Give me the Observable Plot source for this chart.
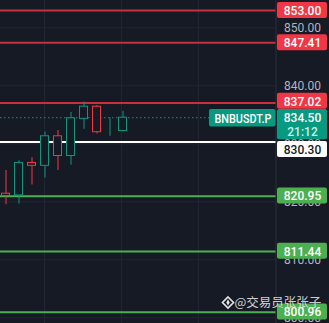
<!DOCTYPE html>
<html><head><meta charset="utf-8">
<script src="https://cdn.jsdelivr.net/npm/d3@7"></script>
<script src="https://cdn.jsdelivr.net/npm/@observablehq/plot@0.6"></script>
<style>
html,body{margin:0;padding:0;background:#161a25;overflow:hidden}
#chart svg{display:block}
</style></head><body><div id="chart"></div>
<script>
// ---- data ----
const candleIndex = [0, 1, 2, 3, 4, 5, 6, 7, 8, 9];
const openPrices  = [821.4, 821.1, 826.7, 826.2, 831.3, 827.9, 834.3, 836.4, 832.2, 832.2];
const closePrices = [821.0, 826.7, 826.2, 831.3, 827.9, 834.4, 836.4, 832.0, 832.2, 834.5];
const highPrices  = [825.4, 827.1, 827.6, 832.0, 832.3, 835.4, 837.2, 836.6, 834.5, 835.6];
const lowPrices   = [819.5, 819.6, 822.9, 824.1, 825.4, 826.3, 832.5, 831.7, 831.3, 832.2];

const redLevels = [853.00, 847.41, 837.02];
const redLabels = ["853.00", "847.41", "837.02"];
const greenLevels = [820.95, 811.44, 800.96];
const greenLabels = ["820.95", "811.44", "800.96"];
const whiteLevels = [830.30];
const whiteLabels = ["830.30"];
const lastPrice = 834.50;
const lastPriceLabel = "834.50";
const countdown = "21:12";
const symbolName = "BNBUSDT.P";
const gridPrices = [800, 810, 820, 830, 840, 850];
const tickLabels = ["800.00", "810.00", "820.00", "830.00", "840.00", "850.00"];
const timeGrid = [2.96, 8.88, 14.81];
const watermark = "@交易员张张子";

// ---- colours / layout ----
const BG = "#161a25", GRID = "#232734", UP = "#089981", DOWN = "#f23645";
const RED_LINE = "#cc2f3c", GREEN = "#4caf50";
const W = 329, H = 323;
const FONT = "Roboto, 'Liberation Sans', Arial, sans-serif";
const xDomain = [-5.5 / 13, (W - 5.5) / 13];
const yDomain = [799.02, 854.71];
const xs = Plot.scale({x: {type: "linear", domain: xDomain, range: [0, W]}});
const ys = Plot.scale({y: {type: "linear", domain: yDomain, range: [H, 0]}});
const px = p => xs.invert(p);
const py = p => ys.invert(p);
const paneEnd = px(275.5);
const boxX1 = px(277), boxX2 = px(327), boxMid = px(302);
const half = 0.3077;

const candles = candleIndex.map((i, k) => ({
  i, o: openPrices[k], c: closePrices[k], h: highPrices[k], l: lowPrices[k],
  color: closePrices[k] >= openPrices[k] ? UP : DOWN
}));

const levels = [
  ...redLevels.map((v, k) => ({v, t: redLabels[k], line: RED_LINE, fill: DOWN, text: "#ffffff", shift: k === 2 ? -1.8 : 0})),
  ...greenLevels.map((v, k) => ({v, t: greenLabels[k], line: GREEN, fill: GREEN, text: "#ffffff", shift: -0.3})),
  ...whiteLevels.map((v, k) => ({v, t: whiteLabels[k], line: "#ffffff", fill: "#ffffff", text: "#131722", shift: 7.4}))
];
const boxY = (d, off) => py(ys.apply(d.v) + d.shift + off);

const lastY = ys.apply(lastPrice);
const ticks = gridPrices.map((v, k) => ({v, t: tickLabels[k]}));

const chart = Plot.plot({
  width: W, height: H, margin: 0,
  x: {domain: xDomain, axis: null},
  y: {domain: yDomain, axis: null},
  style: {background: BG, fontFamily: FONT},
  marks: [
    // grid
    Plot.ruleY(gridPrices, {y: d => d, x1: xDomain[0], x2: paneEnd, stroke: GRID, strokeWidth: 1}),
    Plot.ruleX(timeGrid, {x: d => d, stroke: GRID, strokeWidth: 1}),
    Plot.ruleX([paneEnd], {x: d => d, stroke: "#2a2e39", strokeWidth: 1}),
    // price axis tick labels
    Plot.text(ticks, {x: boxMid, y: "v", text: "t", fill: "#b2b5be", fontSize: 12, dy: 0.5}),
    // last price dotted line
    Plot.ruleY([lastPrice], {y: d => d, x1: xDomain[0], x2: px(209), stroke: UP, strokeWidth: 1, strokeDasharray: "1.5,2.5"}),
    // horizontal levels
    Plot.ruleY(levels, {y: "v", x1: xDomain[0], x2: paneEnd, stroke: "line", strokeWidth: 2}),
    // candles
    Plot.ruleX(candles, {x: "i", y1: "l", y2: "h", stroke: "color", strokeWidth: 1}),
    Plot.rect(candles, {x1: d => d.i - half, x2: d => d.i + half,
      y1: d => Math.min(d.o, d.c), y2: d => Math.max(d.o, d.c),
      fill: BG, stroke: "color", strokeWidth: 1}),
    // level label boxes
    Plot.rect(levels, {x1: boxX1, x2: boxX2, y1: d => boxY(d, 8), y2: d => boxY(d, -8), fill: "fill", rx: 2}),
    Plot.text(levels, {x: boxMid, y: d => boxY(d, 0), text: "t", fill: "text", fontSize: 12, fontWeight: 500, dy: 0.5}),
    // last price box with countdown
    Plot.rect([lastPrice], {x1: boxX1, x2: boxX2, y1: py(lastY + 22), y2: py(lastY - 8.3), fill: UP, rx: 2}),
    Plot.text([lastPriceLabel], {x: boxMid, y: py(lastY - 0.5), text: d => d, fill: "#ffffff", fontSize: 12, fontWeight: 500, dy: 0.5}),
    Plot.text([countdown], {x: boxMid, y: py(lastY + 14.3), text: d => d, fill: "#c8efe5", fontSize: 12, fontWeight: 500, dy: 0.5}),
    // symbol label
    Plot.rect([symbolName], {x1: px(209), x2: px(275.5), y1: py(lastY + 9.4), y2: py(lastY - 8.3), fill: UP, rx: 2}),
    Plot.text([symbolName], {x: px(242.5), y: py(lastY + 0.5), text: d => d, fill: "#ffffff", fontSize: 12, fontWeight: 500, dy: 0.5}),
    // watermark
    Plot.dot([0], {x: px(227.5), y: py(302), symbol: "diamond2", r: 5, stroke: "#e6e6e6", strokeWidth: 1.6, fillOpacity: 0}),
    Plot.dot([0], {x: px(227.5), y: py(302), symbol: "diamond", r: 1.8, fill: "#e6e6e6"}),
    Plot.text([watermark], {x: px(234), y: py(302), text: d => d, textAnchor: "start", fill: "#e8e8e8", fillOpacity: 0.9,
      fontSize: 12.5, fontFamily: "'Noto Sans CJK SC', sans-serif"})
  ]
});
// narrow the symbol text to fit its tag, as in the reference
d3.select(chart).selectAll("text").filter(function() { return this.textContent === symbolName; })
  .attr("textLength", 57).attr("lengthAdjust", "spacingAndGlyphs");
document.getElementById("chart").appendChild(chart);
</script>
</body></html>
